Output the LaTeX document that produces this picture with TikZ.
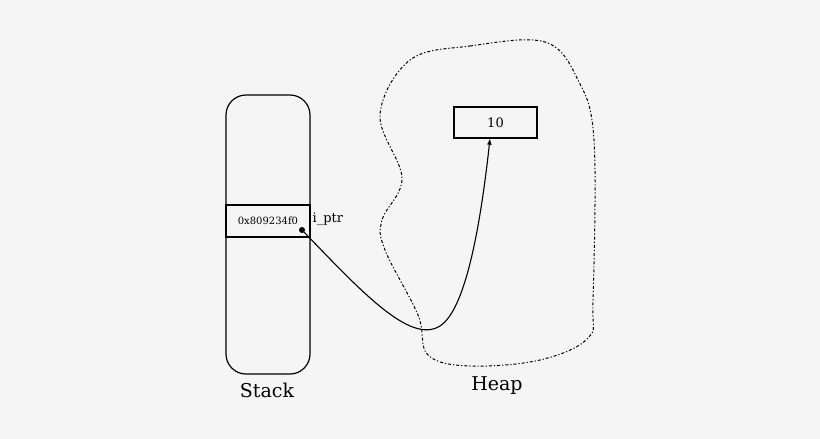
\documentclass[tikz,border=0pt]{standalone}
\usepackage{fontspec}
\setmainfont{DejaVu Serif}
\begin{document}
\begin{tikzpicture}[x=1pt,y=-1pt,line width=1.2pt]
\fill[black!4] (0,0) rectangle (820,439);
\useasboundingbox (0,0) rectangle (820,439);
\draw[rounded corners=20] (226,95) rectangle (310,374);
\node[draw,minimum width=84,minimum height=32,inner sep=0,font=\fontsize{10}{12}\selectfont] (cell) at (268,221) {0x809234f0};
\node[anchor=west,inner sep=1,font=\fontsize{13}{15}\selectfont] (lbl) at (311,219) {i\_ptr};
\node[draw,minimum width=83,minimum height=31,inner sep=0,font=\fontsize{13}{15}\selectfont] (ten) at (495.5,122.5) {10};
\node[font=\fontsize{19}{22}\selectfont] (stack) at (267,390) {Stack};
\node[font=\fontsize{19}{22}\selectfont] (heap) at (497,386) {Heap};
\draw[dash dot,line width=1pt] plot[smooth cycle,tension=0.6] coordinates {(410,60) (470,46) (545,42) (578,80) (594,140) (593,300) (588,338) (540,360) (470,366) (428,355) (418,315) (385,250) (382,220) (402,178) (380,115)};
\fill (302,230) coordinate (p) circle (3);
\draw[-latex,line width=1.1pt] (p) .. controls (360,290) and (410,345) .. (440,326) .. controls (465,310) and (480,230) .. (ten.south -| 490,0);
\end{tikzpicture}
\end{document}
